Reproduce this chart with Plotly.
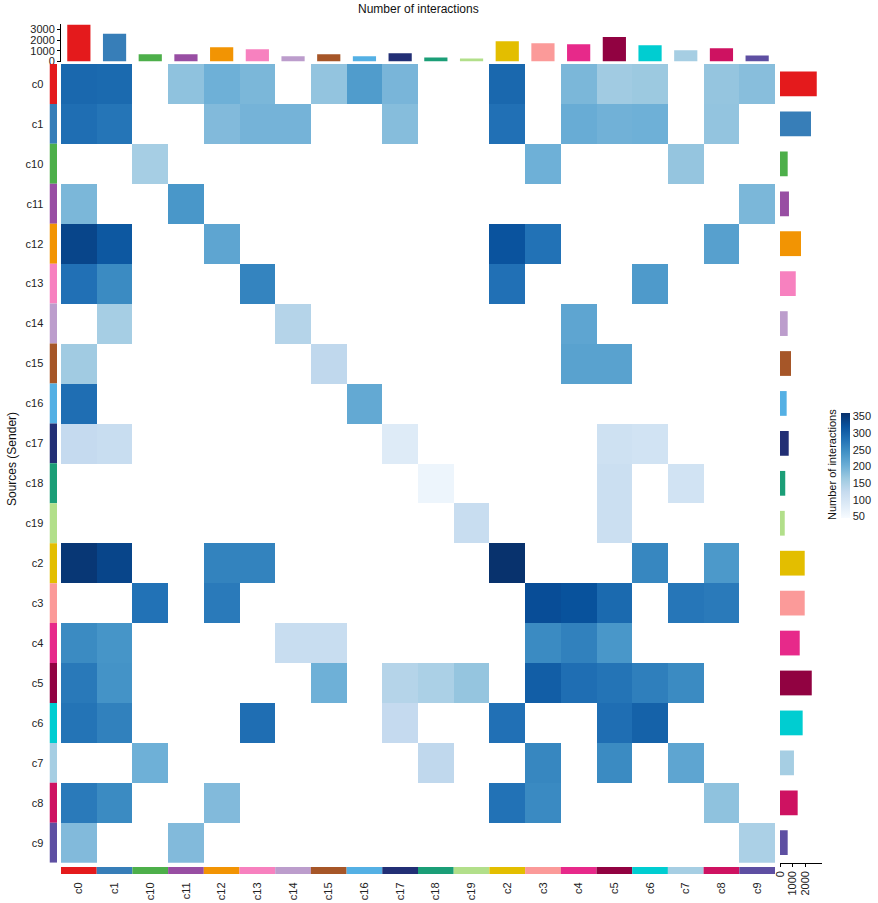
import plotly.graph_objects as go

# ---------------- data ----------------
clusters = ["c0", "c1", "c10", "c11", "c12", "c13", "c14", "c15", "c16", "c17",
            "c18", "c19", "c2", "c3", "c4", "c5", "c6", "c7", "c8", "c9"]
cluster_colors = ["#E41A1C", "#377EB8", "#4DAF4A", "#984EA3", "#F29403", "#F781BF",
                  "#BC9DCC", "#A65628", "#54B0E4", "#222F75", "#1B9E77", "#B2DF8A",
                  "#E3BE00", "#FB9A99", "#E7298A", "#910241", "#00CDD1", "#A6CEE3",
                  "#CE1261", "#5E4FA2"]

# incoming totals (top bars, per receiver column)
incoming_totals = [3430, 2600, 670, 670, 1330, 1140, 480, 670, 480, 760,
                   380, 290, 1900, 1710, 1620, 2290, 1520, 1050, 1240, 570]
# outgoing totals (right bars, per sender row)
outgoing_totals = [2870, 2420, 600, 700, 1640, 1230, 600, 860, 520, 680,
                   410, 370, 1930, 1930, 1540, 2480, 1770, 1090, 1380, 600]

# heatmap values: one list per sender row (None = blank)
N = None
#            c0   c1   c10  c11  c12  c13  c14  c15  c16  c17  c18  c19  c2   c3   c4   c5   c6   c7   c8   c9
row_c0  = [292, 290, N,   175, 200, 190, N,   172, 228, 192, N,   N,   292, N,   190, 160, 165, N,   170, 180]
row_c1  = [285, 277, N,   N,   185, 195, 195, N,   N,   182, N,   N,   282, N,   205, 198, 200, N,   172, N]
row_c10 = [N,   N,   155, N,   N,   N,   N,   N,   N,   N,   N,   N,   N,   200, N,   N,   N,   170, N,   N]
row_c11 = [190, N,   N,   235, N,   N,   N,   N,   N,   N,   N,   N,   N,   N,   N,   N,   N,   N,   N,   190]
row_c12 = [335, 312, N,   N,   215, N,   N,   N,   N,   N,   N,   N,   318, 280, N,   N,   N,   N,   222, N]
row_c13 = [282, 250, N,   N,   N,   258, N,   N,   N,   N,   N,   N,   282, N,   N,   N,   230, N,   N,   N]
row_c14 = [N,   155, N,   N,   N,   N,   140, N,   N,   N,   N,   N,   N,   N,   215, N,   N,   N,   N,   N]
row_c15 = [160, N,   N,   N,   N,   N,   N,   130, N,   N,   N,   N,   N,   N,   220, 220, N,   N,   N,   N]
row_c16 = [285, N,   N,   N,   N,   N,   N,   N,   210, N,   N,   N,   N,   N,   N,   N,   N,   N,   N,   N]
row_c17 = [125, 120, N,   N,   N,   N,   N,   N,   N,   85,  N,   N,   N,   N,   N,   110, 105, N,   N,   N]
row_c18 = [N,   N,   N,   N,   N,   N,   N,   N,   N,   N,   60,  N,   N,   N,   N,   115, N,   105, N,   N]
row_c19 = [N,   N,   N,   N,   N,   N,   N,   N,   N,   N,   N,   120, N,   N,   N,   115, N,   N,   N,   N]
row_c2  = [352, 335, N,   N,   260, 260, N,   N,   N,   N,   N,   N,   358, N,   N,   N,   255, N,   232, N]
row_c3  = [N,   N,   280, N,   270, N,   N,   N,   N,   N,   N,   N,   N,   325, 320, 290, N,   275, 270, N]
row_c4  = [250, 238, N,   N,   N,   N,   120, 120, N,   N,   N,   N,   N,   250, 262, 235, N,   N,   N,   N]
row_c5  = [272, 240, N,   N,   N,   N,   N,   200, N,   140, 150, 170, N,   305, 285, 278, 265, 250, N,   N]
row_c6  = [278, 262, N,   N,   N,   285, N,   N,   N,   125, N,   N,   282, N,   N,   285, 300, N,   N,   N]
row_c7  = [N,   N,   200, N,   N,   N,   N,   N,   N,   N,   130, N,   N,   255, N,   250, N,   215, N,   N]
row_c8  = [270, 250, N,   N,   185, N,   N,   N,   N,   N,   N,   N,   280, 252, N,   N,   N,   N,   175, N]
row_c9  = [185, N,   N,   185, N,   N,   N,   N,   N,   N,   N,   N,   N,   N,   N,   N,   N,   N,   N,   150]

matrix = [row_c0, row_c1, row_c10, row_c11, row_c12, row_c13, row_c14, row_c15, row_c16,
          row_c17, row_c18, row_c19, row_c2, row_c3, row_c4, row_c5, row_c6, row_c7,
          row_c8, row_c9]

colorbar_ticks = [50, 100, 150, 200, 250, 300, 350]
top_ticks = [0, 1000, 2000, 3000]
right_ticks = [0, 1000, 2000]

# ---------------- layout helpers ----------------
W, H = 878, 903
def fx(px):
    return px / W
def fy(py):
    return 1 - py / H

FONT = "Liberation Sans, Arial, sans-serif"
blues = ["#F7FBFF", "#DEEBF7", "#C6DBEF", "#9ECAE1", "#6BAED6",
         "#4292C6", "#2171B5", "#08519C", "#08306B"]
colorscale = [[i / (len(blues) - 1), c] for i, c in enumerate(blues)]

HX = [fx(61), fx(775)]
HY = [fy(862.7), fy(64)]

fig = go.Figure()

fig.add_trace(go.Heatmap(
    x=clusters, y=clusters, z=matrix, xaxis="x", yaxis="y",
    colorscale=colorscale, zmin=45, zmax=360, hoverongaps=False,
    colorbar=dict(x=fx(841), xanchor="left", y=fy(465.5), yanchor="middle",
                  lenmode="pixels", len=105, thicknessmode="pixels", thickness=9,
                  outlinewidth=0, tickvals=colorbar_ticks, ticks="", xpad=0, ypad=0,
                  tickfont=dict(size=11, color="#222", family=FONT)),
))

fig.add_trace(go.Bar(
    x=clusters, y=incoming_totals, marker=dict(color=cluster_colors, line=dict(width=0)),
    width=0.65, xaxis="x2", yaxis="y2", showlegend=False,
))

fig.add_trace(go.Bar(
    x=outgoing_totals, y=clusters, orientation="h",
    marker=dict(color=cluster_colors, line=dict(width=0)),
    width=0.62, xaxis="x3", yaxis="y3", showlegend=False,
))

fig.add_trace(go.Bar(
    x=[1] * len(clusters), y=clusters, orientation="h",
    marker=dict(color=cluster_colors, line=dict(width=0)),
    width=1, xaxis="x4", yaxis="y4", showlegend=False, hoverinfo="skip",
))

fig.add_trace(go.Bar(
    x=clusters, y=[1] * len(clusters),
    marker=dict(color=cluster_colors, line=dict(width=0)),
    width=1, xaxis="x5", yaxis="y5", showlegend=False, hoverinfo="skip",
))

hidden = dict(showgrid=False, zeroline=False, showticklabels=False, ticks="", showline=False,
              automargin=False)
cat_x = dict(type="category", categoryorder="array", categoryarray=clusters, range=[-0.5, 19.5])
cat_y = dict(type="category", categoryorder="array", categoryarray=clusters, range=[19.5, -0.5])
tickfont = dict(size=11, color="#222", family=FONT)

fig.update_layout(
    width=W, height=H, margin=dict(l=0, r=0, t=0, b=0, autoexpand=False),
    paper_bgcolor="white", plot_bgcolor="rgba(0,0,0,0)",
    font=dict(family=FONT, color="#222"),
    showlegend=False,
    xaxis=dict(domain=HX, anchor="y", **cat_x, **hidden),
    yaxis=dict(domain=HY, anchor="x", **cat_y, **hidden),
    xaxis2=dict(domain=HX, anchor="y2", **cat_x, **hidden),
    yaxis2=dict(domain=[fy(61.5), fy(24)], anchor="x2", range=[0, 3500],
                tickvals=top_ticks, showgrid=False, zeroline=False, automargin=False,
                showline=True, linecolor="black", linewidth=1,
                ticks="outside", ticklen=3, tickcolor="black", tickfont=tickfont),
    xaxis3=dict(domain=[fx(780), fx(822)], anchor="y3", range=[0, 3280],
                tickvals=right_ticks, tickangle=-90, showgrid=False, zeroline=False,
                automargin=False,
                showline=True, linecolor="black", linewidth=1,
                ticks="outside", ticklen=3, tickcolor="black", tickfont=tickfont),
    yaxis3=dict(domain=HY, anchor="x3", **cat_y, **hidden),
    xaxis4=dict(domain=[fx(49.5), fx(57)], anchor="y4", range=[0, 1], **hidden),
    yaxis4=dict(domain=HY, anchor="x4", **cat_y, showgrid=False, zeroline=False,
                automargin=False,
                showline=False, ticks="outside", ticklen=3, tickcolor="rgba(0,0,0,0)",
                tickfont=tickfont),
    xaxis5=dict(domain=HX, anchor="y5", **cat_x, showgrid=False, zeroline=False,
                automargin=False,
                showline=False, ticks="outside", ticklen=3, tickcolor="rgba(0,0,0,0)",
                tickangle=-90, tickfont=tickfont),
    yaxis5=dict(domain=[fy(874), fy(867)], anchor="x5", range=[0, 1], **hidden),
    annotations=[
        dict(text="Number of interactions", x=fx(418), y=fy(9), xref="paper", yref="paper",
             showarrow=False, font=dict(size=12, color="#111", family=FONT),
             xanchor="center", yanchor="middle"),
        dict(text="Sources (Sender)", x=fx(12), y=fy(459), xref="paper", yref="paper",
             showarrow=False, textangle=-90, font=dict(size=12, color="#111", family=FONT),
             xanchor="center", yanchor="middle"),
        dict(text="Number of interactions", x=fx(832), y=fy(465), xref="paper", yref="paper",
             showarrow=False, textangle=-90, font=dict(size=11, color="#111", family=FONT),
             xanchor="center", yanchor="middle"),
    ],
)

fig.write_html("out.html", config={"displayModeBar": False},
               post_script="document.body.style.margin='0';document.body.style.overflow='hidden';")
